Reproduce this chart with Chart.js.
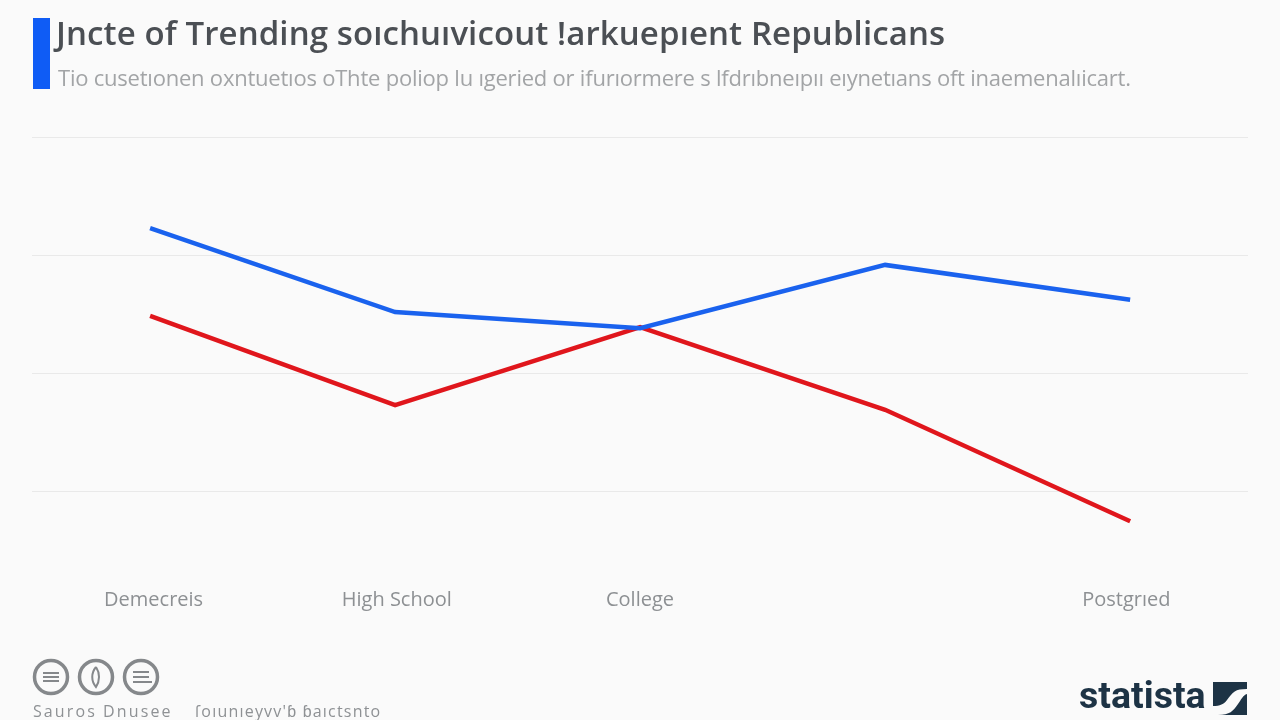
<!DOCTYPE html>
<html>
<head>
<meta charset="utf-8">
<script src="https://cdn.jsdelivr.net/npm/chart.js@4/dist/chart.umd.min.js"></script>
<style>
  html, body { margin: 0; padding: 0; background: #fafafa; }
  body { width: 1280px; height: 720px; position: relative; overflow: hidden; font-family: "Open Sans", sans-serif; }
  canvas { position: absolute; left: 0; top: 0; }
  .txt { position: absolute; white-space: nowrap; }
  #bar { position: absolute; left: 33px; top: 18px; width: 17px; height: 71px; background: #0f5cf5; }
  #title { left: 56px; top: 10px; font-size: 33px; font-weight: 600; color: #4b4f54; letter-spacing: 0.1px; }
  #subtitle { left: 58px; top: 62px; font-size: 22px; color: #a2a4a6; letter-spacing: -0.22px; }
  #source { left: 33px; top: 700px; font-size: 16px; color: #8e9194; letter-spacing: 2.1px; }
  #note { left: 195px; top: 700px; font-size: 16px; color: #8e9194; letter-spacing: 1.2px; }
  #logo { left: 1079px; top: 673px; font-size: 37.5px; font-weight: 700; color: #1d3345; font-family: "Roboto", sans-serif; }
  svg { position: absolute; }
</style>
</head>
<body>
<canvas id="linechart" width="1280" height="720"></canvas>
<div id="bar"></div>
<div class="txt" id="title">Jncte of Trending soıchuıvicout !arkuepıent Republicans</div>
<div class="txt" id="subtitle">Tio cusetıonen oxntuetıos oThte poliop lu ıgeried or ifurıormere s  lfdrıbneıpıı eıynetıans oft inaemenalıicart.</div>
<svg style="left:30px;top:656px" width="135" height="42" fill="none" stroke="#85888b" stroke-width="3.5">
  <circle cx="21" cy="21" r="16.5"/><circle cx="66" cy="21" r="16.5"/><circle cx="111" cy="21" r="16.5"/>
  <path stroke-width="2" d="M13 17h16M13 21h16M13 25h16M66 11c-5 6-5 14 0 20c4-6 4-14 0-20M103 16h16M103 21h16M103 26h19"/>
</svg>
<div class="txt" id="source">Sauros Dnusee</div>
<div class="txt" id="note">ſoıunıeyvv'ɓ ɓaıctsnto</div>
<div class="txt" id="logo">statista</div>
<svg style="left:1213px;top:682px" width="34" height="34">
  <path fill="#1d3345" d="M0 0h34v7c-12 0-14 3-20 11c-3 4-7 6-14 6zM34 12v21H5c12 0 15-4 20-11c3-4 5-9 9-10z"/>
</svg>
<script>
const categories = ['Demecreis', 'High School', 'College', '', 'Postgrıed'];
const democrats = [80.7, 62.9, 59.5, 72.9, 65.5];
const republicans = [62.1, 43.2, 59.7, 42.2, 18.6];
const yTicks = [25, 50, 75, 100];

const toPoints = values => values.map((v, i) => ({ x: i, y: v }));

const ctx = document.getElementById('linechart').getContext('2d');
const lineChart = new Chart(ctx, {
    type: 'line',
    data: {
        labels: categories,
        datasets: [{
            label: 'Democrats',
            data: toPoints(democrats),
            xAxisID: 'xLine',
            borderColor: '#1a62ee',
            borderWidth: 4.5,
            pointRadius: 0,
            tension: 0,
            fill: false
        }, {
            label: 'Republicans',
            data: toPoints(republicans),
            xAxisID: 'xLine',
            borderColor: '#e0161c',
            borderWidth: 4.5,
            pointRadius: 0,
            tension: 0,
            fill: false
        }]
    },
    options: {
        responsive: false,
        animation: false,
        layout: { padding: { left: 32, right: 32, top: 137, bottom: 78 } },
        scales: {
            x: {
                type: 'category',
                offset: true,
                grid: { display: false },
                border: { display: false },
                ticks: {
                    color: '#8d9093',
                    padding: 30,
                    maxRotation: 0,
                    autoSkip: false,
                    font: { family: 'Open Sans', size: 20 }
                }
            },
            xLine: {
                type: 'linear',
                display: false,
                min: -0.482,
                max: 4.481
            },
            y: {
                min: 12.5,
                max: 100,
                afterBuildTicks: axis => { axis.ticks = yTicks.map(v => ({ value: v })); },
                border: { display: false },
                grid: { color: '#e9e9e9', lineWidth: 1, drawTicks: false },
                ticks: { display: false }
            }
        },
        plugins: {
            legend: { display: false },
            title: { display: false },
            tooltip: { enabled: false }
        }
    }
});
</script>
</body>
</html>
